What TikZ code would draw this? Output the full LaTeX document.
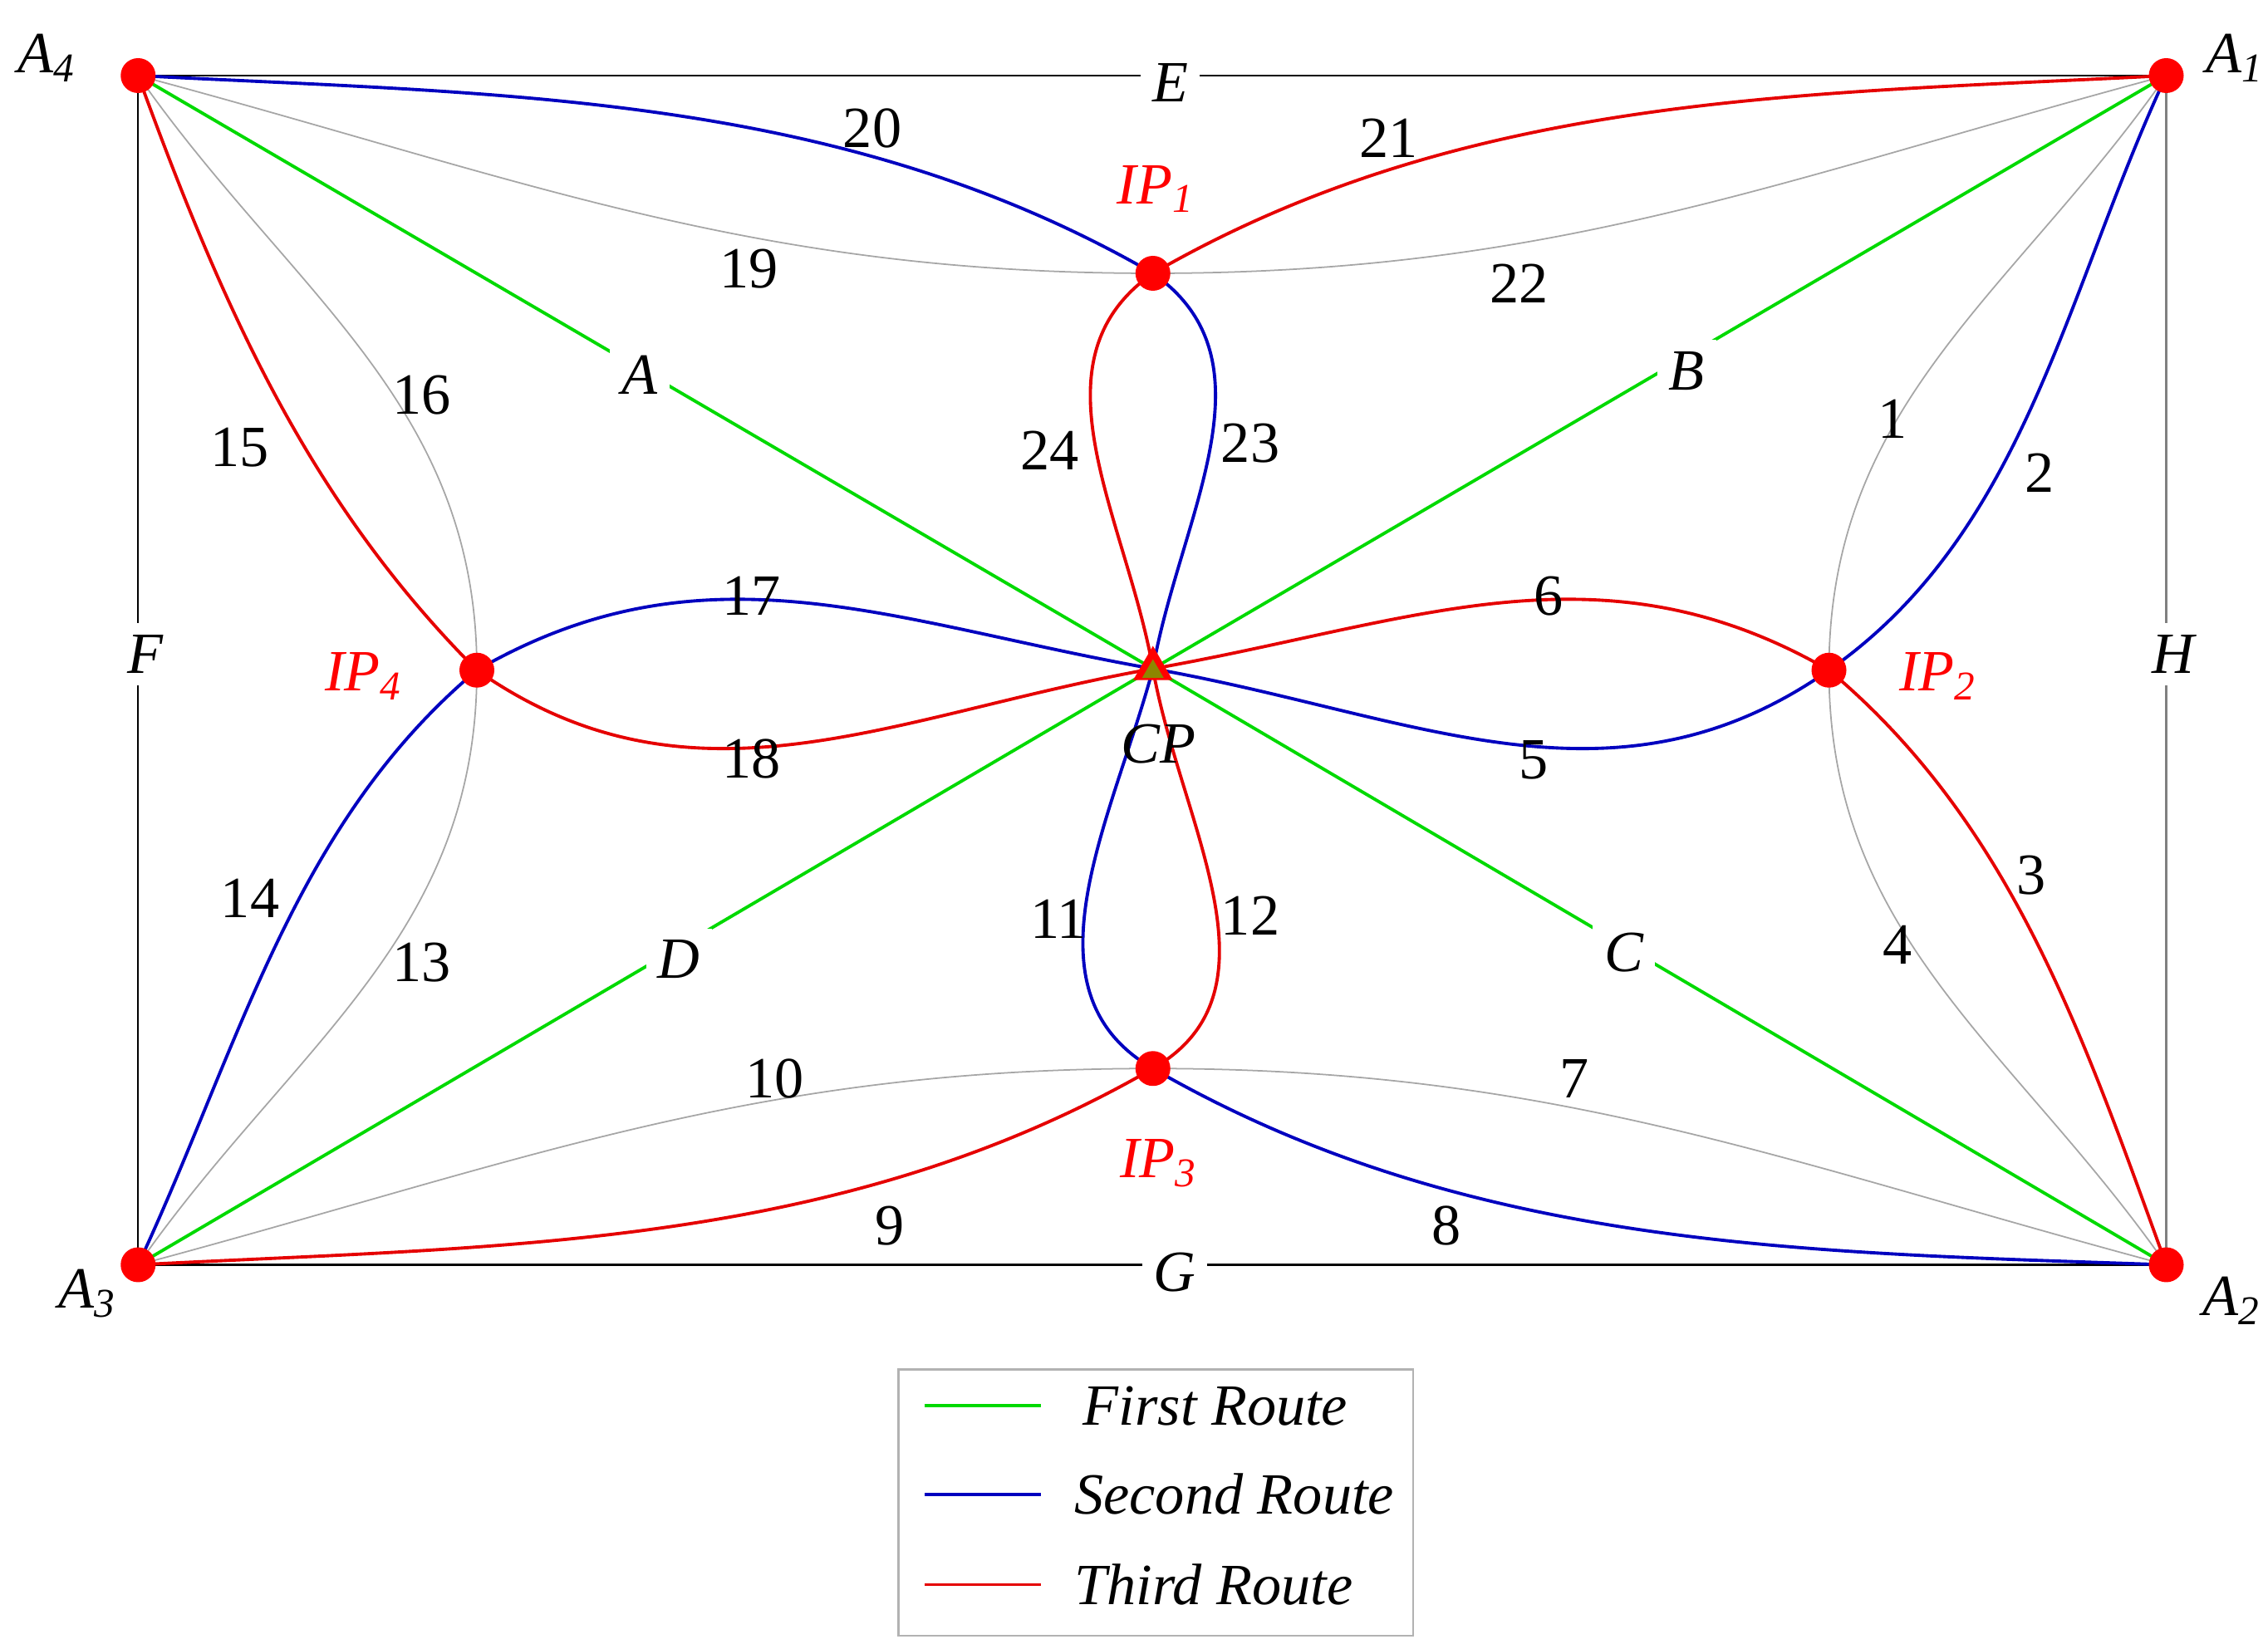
\documentclass[tikz,border=0pt]{standalone}
\usepackage{fontspec}
\usetikzlibrary{shapes.geometric}
\setmainfont{Liberation Serif}
\begin{document}
\begin{tikzpicture}[x=0.0175cm,y=0.0175cm,
  lab/.style={font=\fontsize{20}{24}\selectfont},
  ilab/.style={font=\fontsize{20}{24}\selectfont\itshape},
  rlab/.style={font=\fontsize{20}{24}\selectfont\itshape,text=red},
  gap/.style={fill=white,inner sep=4pt,font=\fontsize{20}{24}\selectfont\itshape},
  gr/.style={line width=1.1pt,green!85!black},
  bl/.style={line width=1.1pt,blue!75!black},
  rd/.style={line width=1.1pt,red!90!black},
  gy/.style={line width=0.5pt,gray!70},
  dot/.style={circle,fill=red,inner sep=0pt,minimum size=0.42cm}]
\useasboundingbox (0,0) rectangle (1560,1134);
\coordinate (A4) at (95,1082); \coordinate (A1) at (1490,1082);
\coordinate (A3) at (95,264); \coordinate (A2) at (1490,264);
\coordinate (CP) at (793,674); \coordinate (IP1) at (793,946);
\coordinate (IP2) at (1258,673); \coordinate (IP3) at (793,399);
\coordinate (IP4) at (328,673);
% frame
\draw[line width=0.6pt] (A4) -- (A1);
\draw[line width=0.6pt] (A4) -- (A3) -- (A2);
\draw[line width=0.9pt,gray] (A1) -- (A2);
\node[gap] (E) at (805,1077) {E};
\node[gap] (G) at (808,259) {G};
\node[gap] (F) at (100,684) {F};
\node[gap] (H) at (1495,684) {H};
% gray
\draw[gy] (A4) to[out=-15,in=180] (IP1) to[out=0,in=195] (A1);
\draw[gy] (A1) to[out=-125,in=90] (IP2) to[out=-90,in=125] (A2);
\draw[gy] (A2) to[out=165,in=0] (IP3) to[out=180,in=15] (A3);
\draw[gy] (A3) to[out=55,in=-90] (IP4) to[out=90,in=-55] (A4);
% green
\draw[gr] (A4) -- (CP) -- (A2);
\draw[gr] (A1) -- (CP) -- (A3);
\node[gap] (lA) at (440,876) {A};
\node[gap] (lB) at (1160,879) {B};
\node[gap] (lC) at (1117,479) {C};
\node[gap] (lD) at (467,474) {D};
% blue
\draw[bl] (A4) to[out=-3,in=150,looseness=0.9] (IP1) to[out=-35,in=80] (CP)
  to[out=-105,in=150] (IP3) to[out=-30,in=178,looseness=0.9] (A2);
\draw[bl] (A1) to[out=-115,in=35,looseness=0.9] (IP2) to[out=-145,in=-10] (CP)
  to[out=170,in=30] (IP4) to[out=-140,in=65,looseness=0.9] (A3);
% red
\draw[rd] (A1) to[out=183,in=30,looseness=0.9] (IP1) to[out=-145,in=100] (CP)
  to[out=-80,in=30] (IP3) to[out=-150,in=3,looseness=0.9] (A3);
\draw[rd] (A4) to[out=-70,in=135,looseness=0.9] (IP4) to[out=-35,in=190] (CP)
  to[out=10,in=150] (IP2) to[out=-40,in=110,looseness=0.9] (A2);
% dots
\foreach \p in {A1,A2,A3,A4,IP1,IP2,IP3,IP4} \node[dot] (d\p) at (\p) {};
\node[regular polygon,regular polygon sides=3,fill=red,inner sep=0pt,minimum size=0.55cm] (tri) at (CP) {};
\node[regular polygon,regular polygon sides=3,fill=olive,inner sep=0pt,minimum size=0.3cm] (tri2) at ([yshift=-1pt]CP) {};
% labels
\foreach \t/\x/\y in {20/600/1046,21/955/1039,19/515/949,22/1045/939,24/722/824,23/860/829,
 16/290/862,15/165/826,1/1302/846,2/1403/809,17/517/724,18/517/612,6/1065/724,5/1055/611,
 14/172/516,13/290/472,11/728/502,12/860/504,3/1397/532,4/1305/484,10/533/392,7/1083/392,
 9/612/291,8/995/291}
 \node[lab] (n\t) at (\x,\y) {\t};
\node[rlab] (tIP1) at (795,1004) {IP\textsubscript{1}};
\node[rlab] (tIP2) at (1333,669) {IP\textsubscript{2}};
\node[rlab] (tIP3) at (797,334) {IP\textsubscript{3}};
\node[rlab] (tIP4) at (250,669) {IP\textsubscript{4}};
\node[ilab] (tCP) at (797,622) {CP};
\node[ilab] (tA3) at (60,244) {A\textsubscript{3}};
\node[ilab] (tA2) at (1535,239) {A\textsubscript{2}};
\node[ilab] (tA4) at (32,1094) {A\textsubscript{4}};
\node[ilab] (tA1) at (1537,1094) {A\textsubscript{1}};
% legend
\draw[gray!60,line width=0.6pt] (618,9) rectangle (972,192);
\coordinate (g1) at (636,167); \coordinate (g2) at (716,167);
\coordinate (b1) at (636,106); \coordinate (b2) at (716,106);
\coordinate (r1) at (636,44); \coordinate (r2) at (716,44);
\draw[gr] (g1) -- (g2); \draw[bl] (b1) -- (b2); \draw[rd] (r1) -- (r2);
\node[ilab,anchor=west] (L1) at (738,167) {First Route};
\node[ilab,anchor=west] (L2) at (732,106) {Second Route};
\node[ilab,anchor=west] (L3) at (732,44) {Third Route};
\end{tikzpicture}
\end{document}
